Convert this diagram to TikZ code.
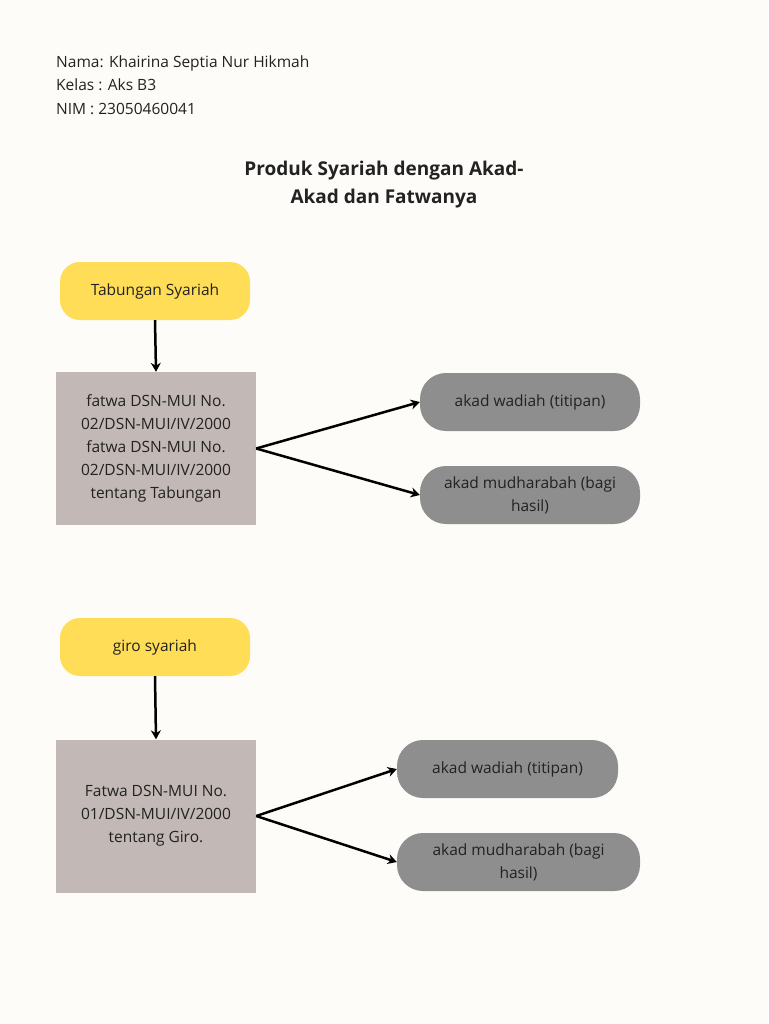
\documentclass[tikz,border=0pt]{standalone}
\usepackage{fontspec}
\setmainfont{Open Sans}
\usetikzlibrary{arrows.meta}
\definecolor{bg}{HTML}{FDFCF9}
\definecolor{yel}{HTML}{FFDD57}
\definecolor{fbox}{HTML}{C2B8B6}
\definecolor{gpill}{HTML}{8E8E8E}
\definecolor{txt}{HTML}{222222}
\tikzset{x=1pt,y=-1pt,
 base/.style={font=\fontsize{15.5}{23}\selectfont,text=txt,align=center,inner sep=0pt},
 ypill/.style={base,fill=yel,rounded corners=20pt,minimum width=190pt,minimum height=58pt},
 fatwa/.style={base,fill=fbox,minimum width=200pt,minimum height=153pt},
 gp/.style={base,fill=gpill,rounded corners=26pt,minimum height=58pt},
 arr/.style={draw=black,line width=2.5pt,-{Stealth[length=9pt,width=10pt]}}}
\begin{document}
\begin{tikzpicture}
\fill[bg] (0,0) rectangle (768,1024);
\useasboundingbox (0,0) rectangle (768,1024);
\node[base,anchor=west,align=left,font=\fontsize{15.5}{23.5}\selectfont] (hdr) at (56,85) {Nama: Khairina Septia Nur Hikmah\\Kelas : Aks B3\\NIM : 23050460041};
\node[base,font=\bfseries\fontsize{19}{28}\selectfont] (title) at (384,185) {Produk Syariah dengan Akad-\\Akad dan Fatwanya};
\node[ypill] (y1) at (155,291) {Tabungan Syariah};
\node[fatwa] (f1) at (156,448.5) {fatwa DSN-MUI No.\\02/DSN-MUI/IV/2000\\fatwa DSN-MUI No.\\02/DSN-MUI/IV/2000\\tentang Tabungan};
\node[gp,minimum width=220pt] (a1) at (530,402) {akad wadiah (titipan)};
\node[gp,minimum width=220pt] (b1) at (530,495) {akad mudharabah (bagi\\hasil)};
\draw[arr] (y1.south) -- (f1.north);
\draw[arr] (f1.east) -- (a1.west);
\draw[arr] (f1.east) -- (b1.west);
\node[ypill] (y2) at (155,647) {giro syariah};
\node[fatwa] (f2) at (156,816) {Fatwa DSN-MUI No.\\01/DSN-MUI/IV/2000\\tentang Giro.};
\node[gp,minimum width=221pt] (a2) at (507.5,769) {akad wadiah (titipan)};
\node[gp,minimum width=243pt] (b2) at (518.5,862) {akad mudharabah (bagi\\hasil)};
\draw[arr] (y2.south) -- (f2.north);
\draw[arr] (f2.east) -- (a2.west);
\draw[arr] (f2.east) -- (b2.west);
\end{tikzpicture}
\end{document}
